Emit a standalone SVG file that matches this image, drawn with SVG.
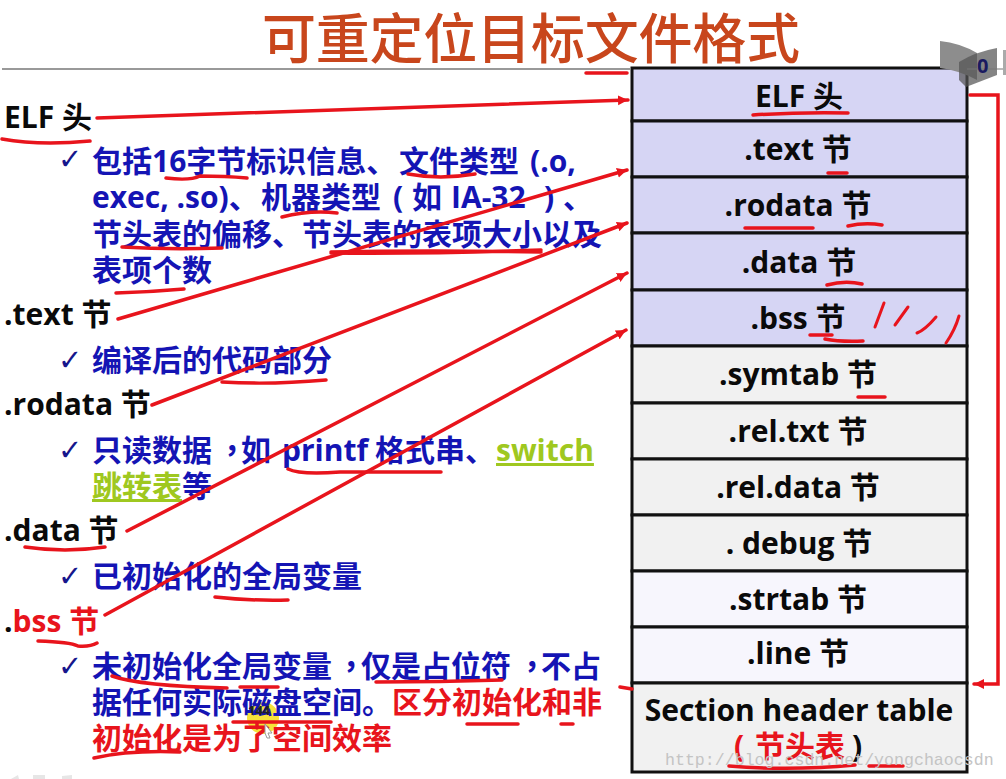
<svg xmlns="http://www.w3.org/2000/svg" width="1006" height="779" viewBox="0 0 1006 779">
<style>
text{font-family:"Open Sans","Noto Sans CJK SC",sans-serif;font-weight:700}
.title{font-family:"Noto Sans CJK SC",sans-serif;font-size:54px;fill:#c8461c;font-weight:500}
.h{font-size:30px;fill:#0a0a0a}
.b{font-size:30px;fill:#1414b4}
.r{fill:#e8141c}
.g{fill:#9fc820;text-decoration:underline}
.n{font-size:30px;fill:#0a0a0a;text-anchor:middle}
.c{font-size:29px;fill:#16168c;font-family:"DejaVu Sans",sans-serif;font-weight:400}
.tc{font-family:"Noto Sans CJK TC",sans-serif}
.row{stroke:#111;stroke-width:3}
.p{fill:#d6d5f4}.q{fill:#f1f1f1}.s{fill:#f7f6fd}
.ink{fill:none;stroke:#e8141c;stroke-width:3.5;stroke-linecap:round}
.thin{stroke-width:3}
.tb{fill:#e6e6e6}
</style>
<defs>
<marker id="a" markerUnits="userSpaceOnUse" markerWidth="12" markerHeight="12" refX="10" refY="5" orient="auto"><path d="M0 0L10 5L0 10Z" fill="#e8141c"/></marker>
</defs>
<rect width="1006" height="779" fill="#fff"/>
<g id="title"><text class="title" x="262" y="59" textLength="538">可重定位目标文件格式</text><path d="M2 69H630" stroke="#777" stroke-width="1.5"/></g>
<g id="stack">
<g id="node-elf"><rect class="row p" x="632" y="68" width="335" height="53"/><text class="n" x="799" y="107">ELF 头</text></g>
<g id="node-text"><rect class="row p" x="632" y="121" width="335" height="56"/><text class="n" x="798" y="160">.text 节</text></g>
<g id="node-rodata"><rect class="row p" x="632" y="177" width="335" height="56"/><text class="n" x="798" y="216">.rodata 节</text></g>
<g id="node-data"><rect class="row p" x="632" y="233" width="335" height="57"/><text class="n" x="799" y="273">.data 节</text></g>
<g id="node-bss"><rect class="row p" x="632" y="290" width="335" height="56"/><text class="n" x="798" y="329">.bss 节</text></g>
<g id="node-symtab"><rect class="row q" x="632" y="346" width="335" height="57"/><text class="n" x="798" y="385">.symtab 节</text></g>
<g id="node-reltxt"><rect class="row q" x="632" y="403" width="335" height="56"/><text class="n" x="798" y="442">.rel.txt 节</text></g>
<g id="node-reldata"><rect class="row q" x="632" y="459" width="335" height="56"/><text class="n" x="798" y="498">.rel.data 节</text></g>
<g id="node-debug"><rect class="row q" x="632" y="515" width="335" height="56"/><text class="n" x="799" y="554">. debug 节</text></g>
<g id="node-strtab"><rect class="row s" x="632" y="571" width="335" height="56"/><text class="n" x="798" y="610">.strtab 节</text></g>
<g id="node-line"><rect class="row s" x="632" y="627" width="335" height="56"/><text class="n" x="798" y="664">.line 节</text></g>
<g id="node-sht"><rect class="row q" x="632" y="683" width="335" height="89"/><text class="n" x="799" y="721">Section header table</text><text class="h" y="757"><tspan class="r" x="734">(</tspan><tspan class="r" x="755">节头表</tspan><tspan x="852">)</tspan></text></g>
</g>
<g id="icon">
<path d="M940 41Q960 43 977 53V80Q958 70 940 68Z" fill="#8d8d8d"/>
<path d="M959 62Q975 52 997 48V75L966 87L959 80Z" fill="#555" fill-opacity=".72"/>
<path d="M967 69H1006" stroke="#777" stroke-width="1"/>
<path d="M1003 50H1006V75H1003Z" fill="#aaa"/>
<text x="977" y="73" style="font-size:20px;fill:#1a1a60">0</text>
</g>
<g id="cursor-mark"><circle cx="263" cy="718" r="16" fill="#f6e23a"/></g>
<g id="left-text">
<text class="h" x="4" y="128">ELF 头</text>
<text class="c" x="58" y="169">✓</text>
<text class="b" y="172"><tspan x="92">包括16字节标识信息、</tspan><tspan x="399">文件类型</tspan><tspan x="530">(.o,</tspan></text>
<text class="b" y="208"><tspan x="92">exec, .so)、</tspan><tspan x="261">机器类型</tspan><tspan x="393">(</tspan><tspan x="412">如</tspan><tspan x="451">IA-32</tspan><tspan x="544">)</tspan><tspan x="563">、</tspan></text>
<text class="b" x="92" y="245">节头表的偏移、节头表的表项大小以及</text>
<text class="b" x="92" y="281">表项个数</text>
<text class="h" x="4" y="325">.text 节</text>
<text class="c" x="58" y="370">✓</text>
<text class="b" x="92" y="371">编译后的代码部分</text>
<text class="h" x="4" y="415">.rodata 节</text>
<text class="c" x="58" y="460">✓</text>
<text class="b" y="461"><tspan x="92">只读数据</tspan><tspan class="tc" x="217">，</tspan><tspan x="241">如</tspan><tspan x="282">printf</tspan><tspan x="375">格式串、</tspan><tspan class="g" x="496">switch</tspan></text>
<text class="b" x="92" y="497"><tspan class="g">跳转表</tspan>等</text>
<text class="h" x="4" y="541">.data 节</text>
<text class="c" x="58" y="586">✓</text>
<text class="b" x="92" y="587">已初始化的全局变量</text>
<text class="h" x="4" y="632"><tspan>.</tspan><tspan class="r">bss 节</tspan></text>
<text class="c" x="58" y="676">✓</text>
<text class="b" y="677"><tspan x="92">未初始化全局变量</tspan><tspan class="tc" x="336">，</tspan><tspan x="361">仅是占位符</tspan><tspan class="tc" x="517">，</tspan><tspan x="541">不占</tspan></text>
<text class="b" x="92" y="713">据任何实际磁盘空间。<tspan class="r">区分初始化和非</tspan></text>
<text class="b r" x="92" y="749">初始化是为了空间效率</text>
</g>
<g id="connectors">
<path class="ink" d="M97 118L628 100" marker-end="url(#a)"/>
<path class="ink" d="M118 319L627 170" marker-end="url(#a)"/>
<path class="ink" d="M152 405L627 223" marker-end="url(#a)"/>
<path class="ink" d="M127 531L627 273" marker-end="url(#a)"/>
<path class="ink" d="M105 615L626 330" marker-end="url(#a)"/>
<path class="ink" d="M970 95H998V684H974" stroke-linecap="butt" marker-end="url(#a)"/>
</g>
<g id="annotations">
<path class="ink" d="M586 73H627M2 139Q40 146 90 141M166 178Q190 181 200 176Q225 176 247 178M408 174Q440 180 475 174M282 217Q310 210 337 213M122 247Q170 250 222 248M331 252Q430 250 541 252M331 253Q430 254 541 250M116 293Q150 292 184 289M222 382Q270 385 326 380M288 469Q300 475 340 472H441M25 547Q65 553 105 547M215 597Q250 601 288 600M38 641Q70 642 78 646Q90 647 97 643M112 676Q140 686 227 688M240 687H278M376 682Q440 682 502 680M467 724H518M561 724H573M233 722H331M257 722V728M94 758Q130 750 180 752M620 687L632 689M753 115Q800 112 848 113M828 173H847M745 228H813M848 226Q865 222 882 225M827 285Q845 280 862 284M810 335H832M825 339Q840 342 863 341M858 397H885M729 766Q790 771 855 765M869 766H903"/>
<path class="ink thin" d="M875 327L884 303M895 325L908 307M917 333Q925 330 936 317M946 343Q955 330 959 316"/>
</g>
<g id="cursor-trace">
<text x="248" y="715" style="font-size:13px;fill:#222">144</text>
<path d="M265 724L272 733L268 733L270 738L267 738L265 733Z" fill="#fff" stroke="#999" stroke-width="1"/>
</g>
<g id="toolbar"><path class="tb" d="M11 779L18 775L19 779ZM33 775H45V779H33ZM62 776L72 775V779H62Z"/></g>
<g id="watermark"><text x="665" y="765" style="font-family:'Liberation Mono',monospace;font-weight:400;font-size:16.6px;fill:#c4c4c4">http://blog.csdn.net/yongchaocsdn</text></g>
</svg>
